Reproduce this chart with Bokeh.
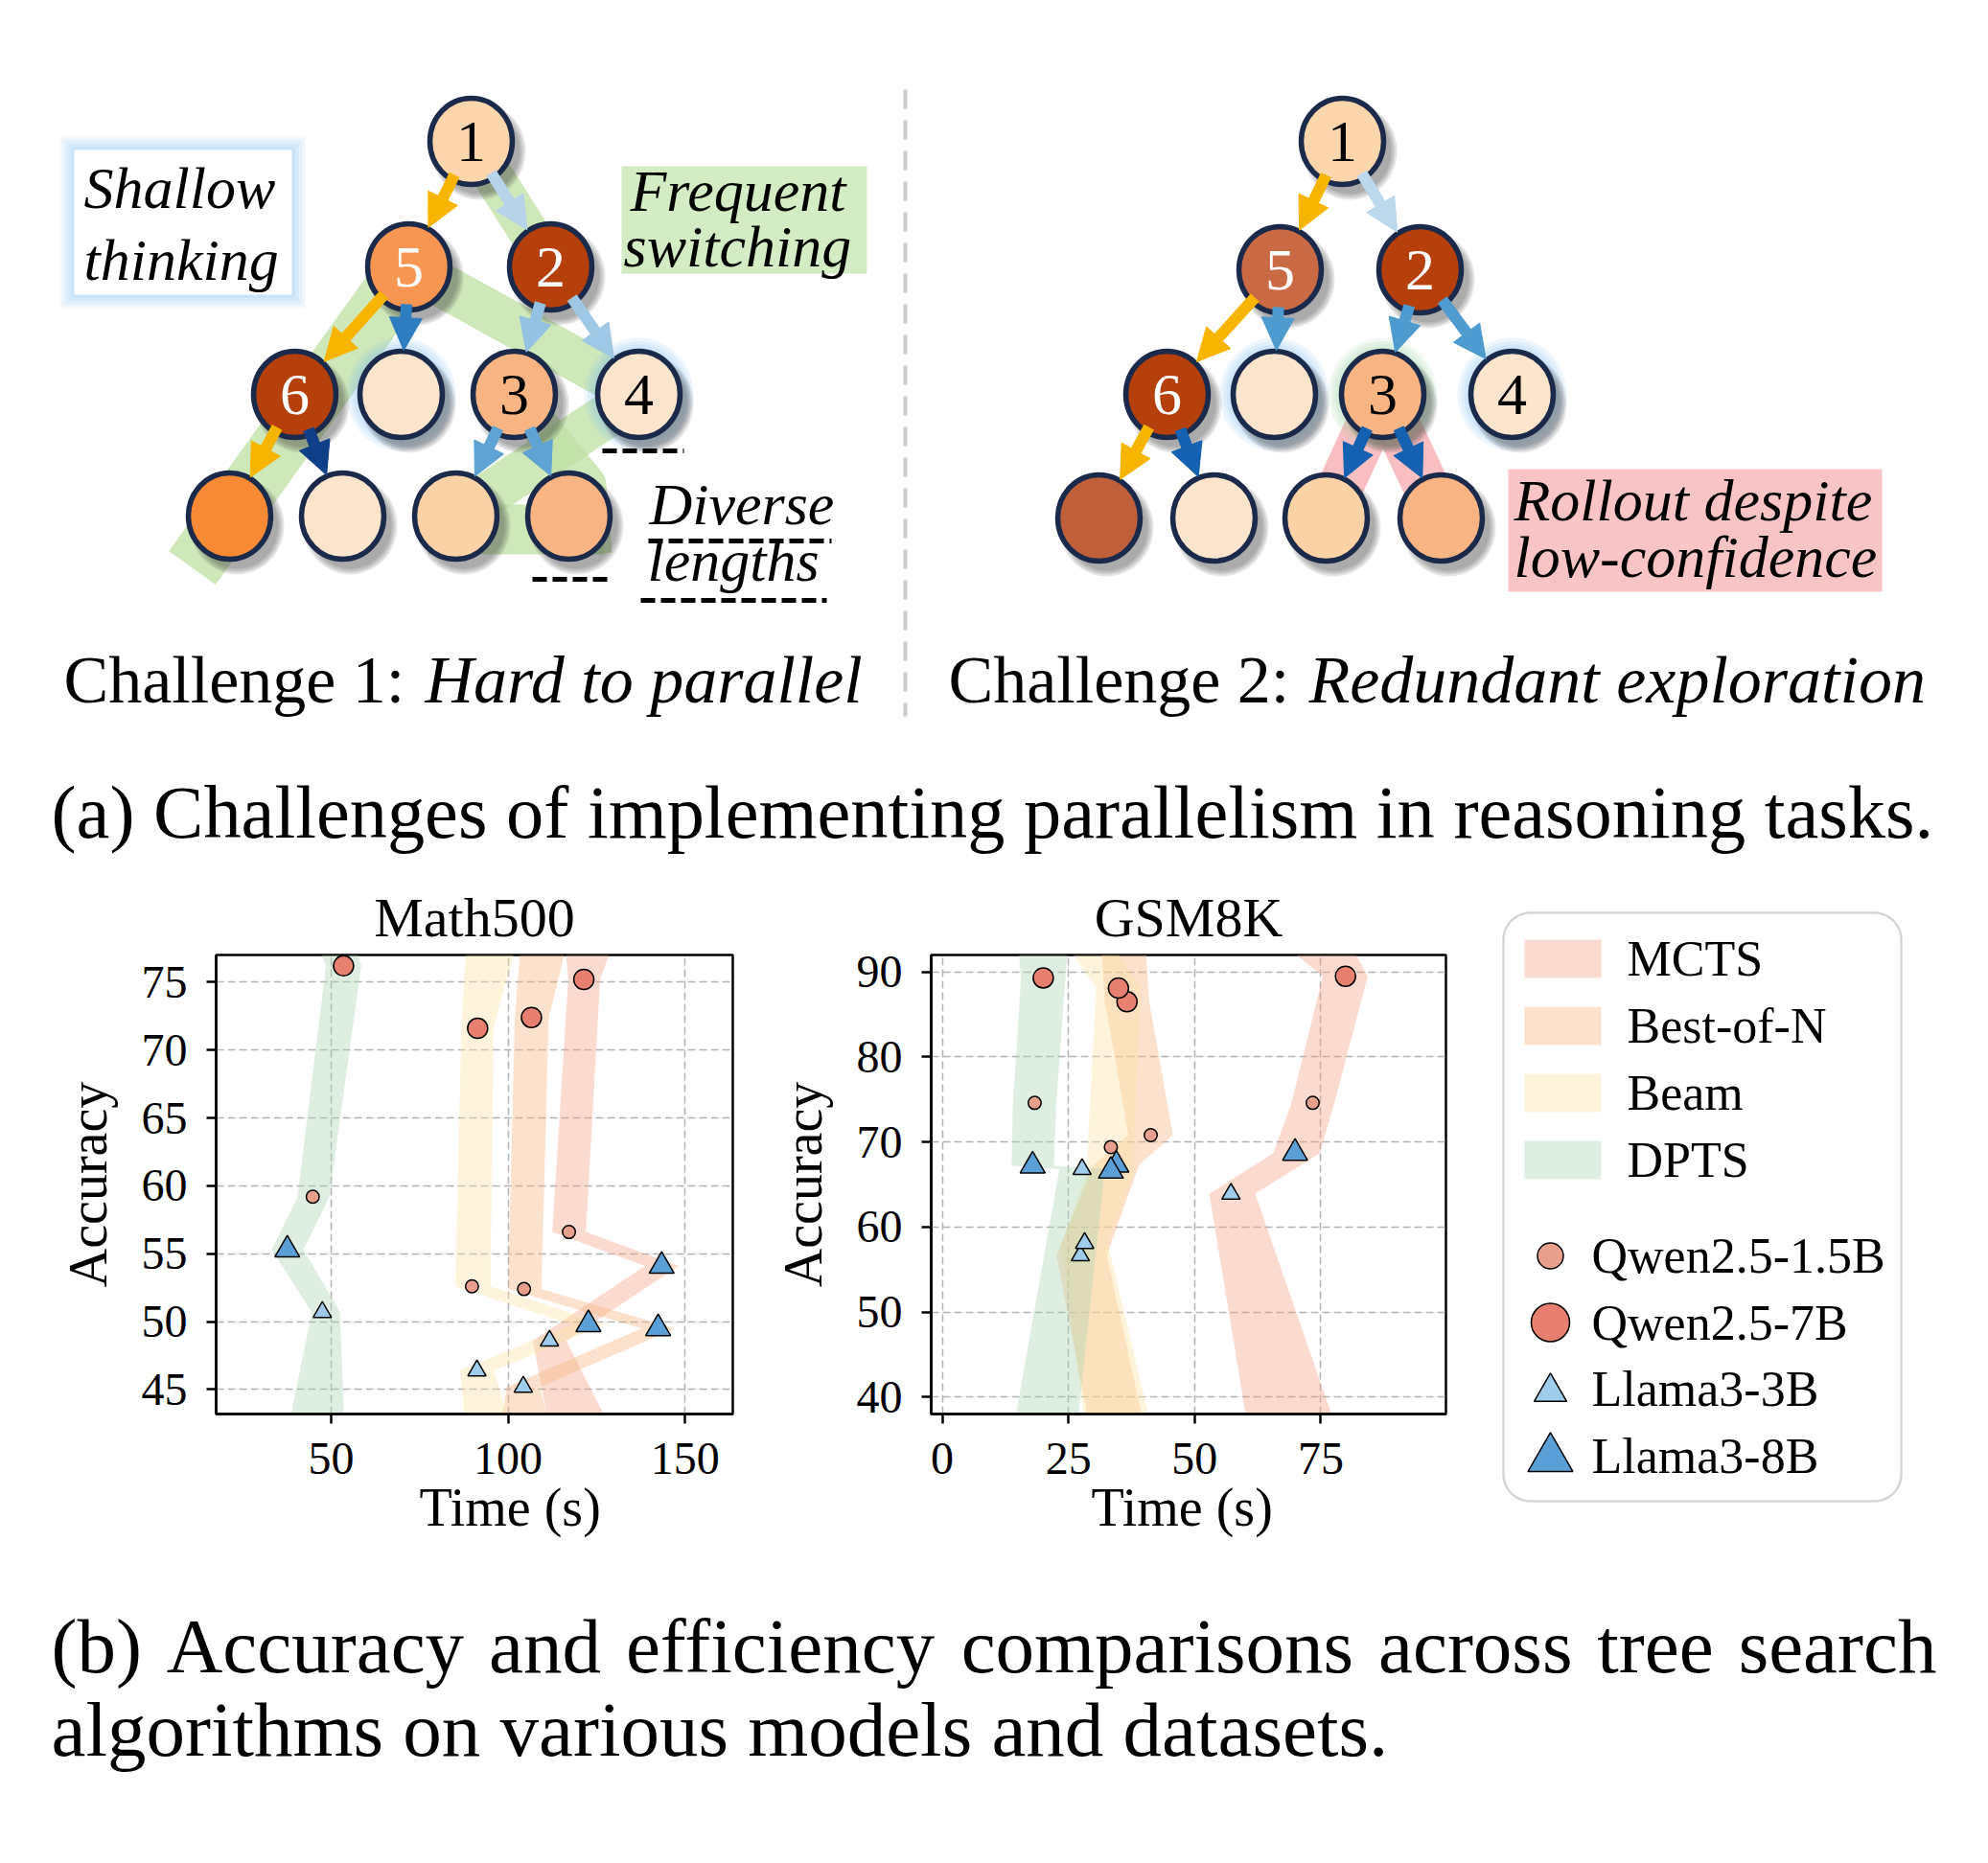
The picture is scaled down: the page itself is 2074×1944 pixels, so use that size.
import math
from bokeh.plotting import figure
from bokeh.layouts import column, row
from bokeh.models import Range1d, FixedTicker, Arrow, NormalHead, Title
from bokeh.embed import file_html
from bokeh.resources import INLINE
from bokeh.core.properties import value

SERIF = "Liberation Serif"

# ------------------------------------------------------------------ data
algorithms = ["MCTS", "Best-of-N", "Beam", "DPTS"]
models = ["Qwen2.5-1.5B", "Qwen2.5-7B", "Llama3-3B", "Llama3-8B"]

# values listed in algorithm order [MCTS, Best-of-N, Beam, DPTS]
math500_qwen15_time = [117.2, 104.5, 89.8, 44.8]
math500_qwen15_acc = [56.6, 52.4, 52.6, 59.2]
math500_qwen7_time = [121.4, 106.6, 91.4, 53.5]
math500_qwen7_acc = [75.2, 72.4, 71.6, 76.2]
math500_llama3_time = [111.7, 104.3, 91.2, 47.5]
math500_llama3_acc = [48.6, 45.2, 46.4, 50.7]
math500_llama8_time = [143.4, 142.4, 122.7, 37.6]
math500_llama8_acc = [54.1, 49.5, 49.8, 55.3]

gsm8k_qwen15_time = [73.4, 41.3, 33.4, 18.3]
gsm8k_qwen15_acc = [74.6, 70.8, 69.4, 74.6]
gsm8k_qwen7_time = [79.9, 36.6, 34.9, 20.0]
gsm8k_qwen7_acc = [89.5, 86.5, 88.1, 89.3]
gsm8k_llama3_time = [57.2, 27.35, 28.2, 27.7]
gsm8k_llama3_acc = [63.9, 56.65, 58.1, 66.8]
gsm8k_llama8_time = [69.9, 34.5, 33.4, 17.9]
gsm8k_llama8_acc = [68.7, 67.3, 66.6, 67.2]

# shaded bands (accuracy levels, left edge time, right edge time)
math500_mcts_band_y = [77.0, 75.2, 56.6, 54.1, 48.6, 43.2]
math500_mcts_band_lo = [116.4, 117.0, 112.5, 138.7, 107.0, 110.9]
math500_mcts_band_hi = [128.5, 126.0, 122.0, 148.2, 116.4, 127.0]
math500_bon_band_y = [77.0, 72.4, 52.4, 49.5, 45.2, 43.2]
math500_bon_band_lo = [103.3, 101.9, 100.0, 137.7, 99.6, 98.4]
math500_bon_band_hi = [115.9, 111.5, 109.4, 147.2, 109.0, 110.9]
math500_beam_band_y = [77.0, 71.6, 52.6, 49.8, 46.4, 43.2]
math500_beam_band_lo = [88.0, 86.8, 85.1, 118.0, 86.5, 87.5]
math500_beam_band_hi = [101.5, 95.9, 95.0, 127.4, 96.0, 99.6]
math500_dpts_band_y = [77.0, 76.2, 59.2, 55.3, 50.7, 43.2]
math500_dpts_band_lo = [47.3, 48.5, 40.5, 33.2, 44.5, 38.7]
math500_dpts_band_hi = [57.6, 58.5, 49.5, 42.2, 52.5, 53.6]

gsm8k_mcts_band_y = [92.0, 89.5, 74.6, 68.7, 63.9, 38.0]
gsm8k_mcts_band_lo = [70.2, 75.4, 69.2, 65.6, 52.9, 60.1]
gsm8k_mcts_band_hi = [82.0, 84.3, 77.7, 74.8, 62.0, 77.1]
gsm8k_bon_band_y = [92.0, 86.5, 70.8, 67.3, 56.65, 38.0]
gsm8k_bon_band_lo = [31.6, 32.2, 36.9, 30.0, 22.6, 28.7]
gsm8k_bon_band_hi = [40.4, 41.0, 45.7, 39.0, 32.6, 39.5]
gsm8k_beam_band_y = [92.0, 88.1, 69.4, 66.6, 58.1, 38.0]
gsm8k_beam_band_lo = [26.0, 30.5, 28.8, 28.8, 23.6, 28.0]
gsm8k_beam_band_hi = [35.0, 39.3, 38.0, 38.0, 32.8, 40.8]
gsm8k_dpts_band_y = [92.0, 89.3, 74.6, 67.2, 66.8, 38.0]
gsm8k_dpts_band_lo = [15.2, 15.6, 14.0, 13.7, 23.2, 14.6]
gsm8k_dpts_band_hi = [24.7, 24.4, 22.6, 22.1, 32.2, 27.0]

math500_xticks = [50, 100, 150]
math500_yticks = [45, 50, 55, 60, 65, 70, 75]
gsm8k_xticks = [0, 25, 50, 75]
gsm8k_yticks = [40, 50, 60, 70, 80, 90]

# tree diagrams (page pixel positions)
node_labels = ["1", "5", "2", "6", "", "3", "4", "", "", "", ""]
tree_edges = [(0, 1), (0, 2), (1, 3), (1, 4), (2, 5), (2, 6), (3, 7), (3, 8), (5, 9), (5, 10)]
left_tree_x = [491, 426, 574, 307, 418, 536, 666, 239, 357, 475, 593]
left_tree_y = [147, 278, 278, 411, 411, 411, 411, 538, 538, 538, 538]
right_tree_x = [1400, 1335, 1481, 1217, 1329, 1442, 1577, 1146, 1266, 1383, 1503]
right_tree_y = [147, 281, 281, 411, 411, 411, 411, 540, 540, 540, 540]
left_fill = ["#fbd5ac", "#f79552", "#b6400b", "#b6400b", "#fde4cc", "#f8b483",
             "#fde4cc", "#f88a35", "#fde4cc", "#fbd2a6", "#f8b483"]
right_fill = ["#fbd5ac", "#c96a45", "#b6400b", "#b6400b", "#fde4cc", "#f8b483",
              "#fde4cc", "#c0603a", "#fde4cc", "#fbd2a6", "#f8b483"]
label_colors = ["black", "white", "white", "white", "black", "black",
                "black", "black", "black", "black", "black"]
GOLD = "#f8b500"
left_edge_colors = [GOLD, "#b7d3ea", GOLD, "#2f7dc1", "#93c2e3", "#9fc8e4",
                    GOLD, "#0f3f88", "#5ea3d3", "#5ea3d3"]
right_edge_colors = [GOLD, "#bcd8ed", GOLD, "#4e9bd0", "#4e9bd0", "#4e9bd0",
                     GOLD, "#1361b0", "#1361b0", "#1361b0"]

band_colors = {"MCTS": "#f4a080", "Best-of-N": "#f8b37c", "Beam": "#fde3a0", "DPTS": "#a8d4b4"}
BAND_ALPHA = 0.38
model_style = {
    "Qwen2.5-1.5B": ("circle", 13.5, "#e8a08c", 27),
    "Qwen2.5-7B": ("circle", 21, "#e88070", 40),
    "Llama3-3B": ("triangle", 19, "#9eccea", 34),
    "Llama3-8B": ("triangle", 26, "#5aa0d7", 47),
}

PAGE_W = 2074
TOP_H, ROW_H, CAP_H = 916, 704, 324
ROW_Y0 = TOP_H
M_W, G_W = 800, 740


def blank(w, h, x0, y0):
    p = figure(width=w, height=h, x_range=Range1d(x0, x0 + w), y_range=Range1d(y0 + h, y0),
               output_backend="svg", toolbar_location=None, min_border=0)
    p.frame_align = False
    p.axis.visible = False
    p.grid.visible = False
    p.outline_line_color = None
    p.background_fill_color = "white"
    p.border_fill_color = "white"
    return p


def txt(p, x, y, s, size, style="normal", color="black", align="left"):
    p.text(x=[x], y=[y], text=[s], text_font=value(SERIF), text_font_size=size,
           text_font_style=style, text_color=color, text_align=align, text_baseline="middle")


# ------------------------------------------------------------------ top diagram
top = blank(PAGE_W, TOP_H, 0, 0)

NW, NH = 86, 90


def draw_tree(p, xs, ys, fills, edge_colors, glow_blue, glow_green, green_paths, pink_edges):
    for path, lw in green_paths:
        px = [xs[i] if isinstance(i, int) else i[0] for i in path]
        py = [ys[i] if isinstance(i, int) else i[1] for i in path]
        p.line(px, py, line_width=lw, line_color="#bde0a3", line_alpha=0.75,
               line_join="round", line_cap="butt")
    for a, b in pink_edges:
        p.line([xs[a], xs[b]], [ys[a], ys[b]], line_width=48, line_color="#f7b3b6",
               line_alpha=0.85, line_cap="butt")
    for idx, col in [(i, "#7fbdf2") for i in glow_blue] + [(i, "#8fd49a") for i in glow_green]:
        for k in (4, 3, 2, 1):
            p.ellipse([xs[idx]], [ys[idx]], width=NW + 7 * k, height=NH + 7 * k,
                      fill_color=col, fill_alpha=0.13, line_color=None)
    sx = [x + 8 for x in xs]
    sy = [y + 10 for y in ys]
    for k in (3, 2, 1, 0):
        p.ellipse(sx, sy, width=NW + 4 * k, height=NH + 4 * k,
                  fill_color="#303030", fill_alpha=0.12, line_color=None)
    r = 45
    for (a, b), c in zip(tree_edges, edge_colors):
        dx, dy = xs[b] - xs[a], ys[b] - ys[a]
        d = math.hypot(dx, dy)
        ux, uy = dx / d, dy / d
        p.add_layout(Arrow(x_start=xs[a] + ux * (r - 6), y_start=ys[a] + uy * (r - 6),
                           x_end=xs[b] - ux * (r + 1), y_end=ys[b] - uy * (r + 1),
                           line_color=c, line_width=12,
                           end=NormalHead(size=34, fill_color=c, line_color=c, line_width=1)))
    p.ellipse(xs, ys, width=NW, height=NH, fill_color=fills,
              line_color="#1b2a4a", line_width=5.5)
    p.text(x=xs, y=ys, text=node_labels, text_font=value(SERIF), text_font_size="62px",
           text_color=label_colors, text_align="center", text_baseline="middle")


draw_tree(top, left_tree_x, left_tree_y, left_fill, left_edge_colors,
          glow_blue=[4, 6], glow_green=[],
          green_paths=[([0, 2], 42), ([1, 6], 46), ([1, 7, (200, 592)], 60), ([6, 9], 46),
                       ([(446, 552), (630, 552)], 52), ([5, (612, 505), (618, 578)], 40)],
          pink_edges=[])
draw_tree(top, right_tree_x, right_tree_y, right_fill, right_edge_colors,
          glow_blue=[4, 6], glow_green=[5], green_paths=[], pink_edges=[(5, 9), (5, 10)])

for k in (4, 3, 2, 1):
    top.rect([190.5], [231.5], width=227 + 7 * k, height=151 + 7 * k,
             fill_color="#7fbdf2", fill_alpha=0.12, line_color=None)
top.rect([190.5], [231.5], width=227, height=151, fill_color="white", line_color=None)
txt(top, 87, 195, "Shallow", "62px", "italic")
txt(top, 87, 270, "thinking", "62px", "italic")

top.rect([776], [229], width=256, height=112, fill_color="#d4ecc4", line_color=None)
txt(top, 657, 198, "Frequent", "62px", "italic")
txt(top, 650, 256, "switching", "62px", "italic")

txt(top, 677, 525, "Diverse", "62px", "italic")
txt(top, 675, 584, "lengths", "62px", "italic")
dash_x0 = [628, 676, 555, 668]
dash_x1 = [713, 867, 638, 862]
dash_y = [470, 564, 604, 626]
for a, b, y in zip(dash_x0, dash_x1, dash_y):
    top.line([a, b], [y, y], line_color="black", line_width=5, line_dash="15 6")

top.rect([1768], [553], width=390, height=128, fill_color="#f9c4c6", line_color=None)
txt(top, 1579, 521, "Rollout despite", "62px", "italic")
txt(top, 1579, 580, "low-confidence", "62px", "italic")

top.line([944, 944], [93, 747], line_color="#cccccc", line_width=4, line_dash="20 12")

txt(top, 66, 709, "Challenge 1:", "70px")
txt(top, 443, 709, "Hard to parallel", "70px", "italic")
txt(top, 989, 709, "Challenge 2:", "70px")
txt(top, 1365, 709, "Redundant exploration", "70px", "italic")

txt(top, 53, 847, "(a) Challenges of implementing parallelism in reasoning tasks.", "78.4px")


# ------------------------------------------------------------------ scatter plots
def make_plot(title, w, bl, br, xr, yr, xticks, yticks, bands, pts, xlabel_offset):
    p = figure(width=w, height=ROW_H, x_range=Range1d(*xr), y_range=Range1d(*yr),
               output_backend="svg", toolbar_location=None,
               min_border_left=bl, min_border_right=br, min_border_top=78, min_border_bottom=145)
    p.title.text = title
    p.title.text_font = SERIF
    p.title.text_font_size = "58px"
    p.title.text_font_style = "normal"
    p.title.text_color = "black"
    p.title.align = "center"
    p.title.standoff = 13
    p.background_fill_color = "white"
    p.border_fill_color = "white"
    p.outline_line_color = "black"
    p.outline_line_width = 2.5
    p.xaxis.ticker = FixedTicker(ticks=xticks)
    p.yaxis.ticker = FixedTicker(ticks=yticks)
    p.yaxis.axis_label = "Accuracy"
    for ax in (p.xaxis, p.yaxis):
        ax.major_label_text_font = SERIF
        ax.major_label_text_font_size = "48px"
        ax.major_label_text_color = "black"
        ax.axis_label_text_font = SERIF
        ax.axis_label_text_font_size = "56px"
        ax.axis_label_text_font_style = "normal"
        ax.axis_label_text_color = "black"
        ax.major_tick_out = 10
        ax.major_tick_in = 0
        ax.major_tick_line_width = 2.5
        ax.major_tick_line_color = "black"
        ax.minor_tick_line_color = None
        ax.axis_line_width = 2.5
        ax.axis_line_color = "black"
    p.xaxis.major_label_standoff = 20
    p.yaxis.major_label_standoff = 20
    p.yaxis.axis_label_standoff = 22
    xl = Title(text="Time (s)", align="left", offset=xlabel_offset, vertical_align="top",
               standoff=2, text_font=SERIF, text_font_size="56px",
               text_font_style="normal", text_color="black")
    p.add_layout(xl, "below")
    p.grid.grid_line_color = "#b3b3b3"
    p.grid.grid_line_dash = "8 4"
    p.grid.grid_line_width = 1.5
    for name, (ys, lo, hi) in zip(algorithms, bands):
        p.harea(x1=lo, x2=hi, y=ys, fill_color=band_colors[name], fill_alpha=BAND_ALPHA)
    for m, (tx, ac) in zip(models, pts):
        mk, sz, col, _ = model_style[m]
        p.scatter(tx, ac, marker=mk, size=sz, fill_color=col, line_color="black", line_width=1.5)
    return p


m500 = make_plot("Math500", M_W, 225, 36, (17.5, 163.5), (43.2, 77.0),
                 math500_xticks, math500_yticks,
                 [(math500_mcts_band_y, math500_mcts_band_lo, math500_mcts_band_hi),
                  (math500_bon_band_y, math500_bon_band_lo, math500_bon_band_hi),
                  (math500_beam_band_y, math500_beam_band_lo, math500_beam_band_hi),
                  (math500_dpts_band_y, math500_dpts_band_lo, math500_dpts_band_hi)],
                 [(math500_qwen15_time, math500_qwen15_acc), (math500_qwen7_time, math500_qwen7_acc),
                  (math500_llama3_time, math500_llama3_acc), (math500_llama8_time, math500_llama8_acc)],
                 212)

gsm = make_plot("GSM8K", G_W, 171, 32, (-2.2, 99.8), (38.0, 92.0),
                gsm8k_xticks, gsm8k_yticks,
                [(gsm8k_mcts_band_y, gsm8k_mcts_band_lo, gsm8k_mcts_band_hi),
                 (gsm8k_bon_band_y, gsm8k_bon_band_lo, gsm8k_bon_band_hi),
                 (gsm8k_beam_band_y, gsm8k_beam_band_lo, gsm8k_beam_band_hi),
                 (gsm8k_dpts_band_y, gsm8k_dpts_band_lo, gsm8k_dpts_band_hi)],
                [(gsm8k_qwen15_time, gsm8k_qwen15_acc), (gsm8k_qwen7_time, gsm8k_qwen7_acc),
                 (gsm8k_llama3_time, gsm8k_llama3_acc), (gsm8k_llama8_time, gsm8k_llama8_acc)],
                167)

# ------------------------------------------------------------------ legend panel
LEG_X0 = M_W + G_W
leg = blank(PAGE_W - LEG_X0, ROW_H, LEG_X0, ROW_Y0)


def rounded_rect(x0, y0, x1, y1, r, n=10):
    xs, ys = [], []
    for cx, cy, a0, a1 in [(x1 - r, y0 + r, -90, 0), (x1 - r, y1 - r, 0, 90),
                           (x0 + r, y1 - r, 90, 180), (x0 + r, y0 + r, 180, 270)]:
        for k in range(n + 1):
            a = math.radians(a0 + (a1 - a0) * k / n)
            xs.append(cx + r * math.cos(a))
            ys.append(cy + r * math.sin(a))
    return xs, ys


bx, by = rounded_rect(1568, 952, 1983, 1566, 28)
leg.patch(bx, by, fill_color="white", line_color="#d6d6d6", line_width=2.5)
row_step = 70
for i, name in enumerate(algorithms):
    y = 1000 + i * row_step
    leg.rect([1630], [y], width=80, height=40, fill_color=band_colors[name],
             fill_alpha=BAND_ALPHA, line_color=None)
    txt(leg, 1697, y, name, "52px")
for i, m in enumerate(models):
    y = 1310 + i * 69.5
    mk, _, col, lsz = model_style[m]
    leg.scatter([1617], [y + (3 if mk == "triangle" else 0)], marker=mk, size=lsz,
                fill_color=col, line_color="black", line_width=1.5)
    txt(leg, 1660, y, m, "52px")

# ------------------------------------------------------------------ bottom caption
cap = blank(PAGE_W, CAP_H, 0, ROW_Y0 + ROW_H)
CAP_SIZE = 81
em = {"(": .333, ")": .333, "b": .5, "A": .722, "c": .444, "u": .5, "r": .333, "a": .444,
      "y": .5, "n": .5, "d": .5, "e": .444, "f": .333, "i": .278, "o": .5, "m": .778,
      "p": .5, "s": .389, "t": .278, "h": .5}
line1_words = "(b) Accuracy and efficiency comparisons across tree search".split()
line1_left, line1_right = 53, 2020
word_w = [sum(em[c] for c in w) * CAP_SIZE for w in line1_words]
gap = (line1_right - line1_left - sum(word_w)) / (len(line1_words) - 1)
xpos = line1_left
for w, ww in zip(line1_words, word_w):
    txt(cap, xpos, 1717, w, "%dpx" % CAP_SIZE)
    xpos += ww + gap
txt(cap, 53, 1804, "algorithms on various models and datasets.", "%dpx" % CAP_SIZE)

layout = column(top, row(m500, gsm, leg), cap)
open("out.html", "w").write(file_html(layout, INLINE))
